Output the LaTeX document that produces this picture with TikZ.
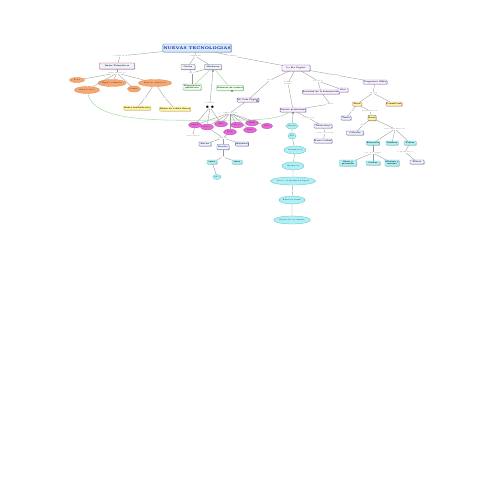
\documentclass[tikz,border=0pt]{standalone}
\usetikzlibrary{shadows,shapes.geometric}
\definecolor{lnk}{HTML}{989898}
\definecolor{orF}{HTML}{F5A872}\definecolor{orD}{HTML}{E8884A}
\definecolor{mgF}{HTML}{E66AD6}\definecolor{mgD}{HTML}{C03CB0}
\definecolor{cyF}{HTML}{B0F0F4}\definecolor{cyD}{HTML}{58C4D0}
\definecolor{ylF}{HTML}{FFF4A0}\definecolor{ylD}{HTML}{D8C850}
\definecolor{gnF}{HTML}{F0FFEE}\definecolor{gnD}{HTML}{50B850}
\definecolor{buF}{HTML}{EEF2FF}\definecolor{buD}{HTML}{4858A8}
\definecolor{puF}{HTML}{FAF2FF}\definecolor{puD}{HTML}{9060B8}
\definecolor{rdF}{HTML}{FFF0F0}\definecolor{rdD}{HTML}{C03030}
\definecolor{tiF}{HTML}{D6EAFF}\definecolor{tiD}{HTML}{3A7FD0}
\definecolor{grn}{HTML}{A8E0A8}
\tikzset{
  lbl/.style={inner sep=0.2pt,font=\fontsize{1.6}{1.9}\selectfont,text=gray!70!black,align=center},
  bx/.style={draw=#1D,fill=#1F,line width=0.45pt,rounded corners=0.6pt,inner sep=0.3pt,
     font=\fontsize{2}{2.3}\selectfont\bfseries,align=center,
     drop shadow={shadow xshift=0.6pt,shadow yshift=-0.6pt,fill=gray!70,opacity=0.8}},
  el/.style={ellipse,draw=#1D,fill=#1F,line width=0.35pt,inner sep=0.2pt,
     font=\fontsize{1.7}{2}\selectfont,align=center},
  ln/.style={draw=lnk,line width=0.35pt},
  gl/.style={draw=grn,line width=0.55pt},
  ico/.style={circle,fill=gray!60!black,inner sep=0pt,minimum size=1.6pt}
}
\begin{document}
\begin{tikzpicture}[x=1pt,y=-1pt]
\useasboundingbox (0,0) rectangle (495,495);
% title
\node[bx=ti,minimum width=66pt,minimum height=8pt,text=blue!40!black,font=\fontsize{3.8}{4}\selectfont\bfseries] (t) at (197,48) {NUEVAS TECNOLOGIAS};
\node[lbl] (l1) at (120,56) {se clasifican en};
\node[lbl] (l2) at (195,56) {comprenden};
\node[lbl] (l3) at (232,56) {permiten};
\node[bx=bu,draw=rdD,minimum width=35pt,minimum height=6pt] (rt) at (117,66) {Redes Telem\'aticas};
\node[bx=bu,draw=gray!80!black,minimum width=14pt,minimum height=5pt] (gr) at (188,67) {Grafos};
\node[bx=bu,draw=gray!80!black,minimum width=17pt,minimum height=5pt] (hw) at (213,67) {Hardware};
\node[bx=pu,draw=puD!70!black,minimum width=28pt,minimum height=6pt] (ed) at (296,68) {La Era Digital};
\node[ico] (hwi) at (213,71) {};
% left
\node[lbl] (l4) at (117,73) {est\'an formadas por};
\node[el=or,minimum width=15pt,minimum height=5pt] (e1) at (77,80) {Nodos};
\node[el=or,minimum width=25pt,minimum height=7pt] (e2) at (87,90) {Canal de datos};
\node[el=or,minimum width=27pt,minimum height=7pt] (e3) at (112,83) {Equipos terminales};
\node[el=or,minimum width=13pt,minimum height=6pt] (e4) at (134,89) {Software};
\node[el=or,minimum width=33pt,minimum height=7pt] (e5) at (155,83) {Redes de ordenadores};
\node[lbl] (l5) at (145,98) {son};
\node[lbl] (l6) at (165,98) {son};
\node[bx=yl,minimum width=27pt,minimum height=4pt,drop shadow={opacity=0}] (y1) at (137,108) {Redes Inal\'ambricas};
\node[bx=yl,minimum width=30pt,minimum height=4pt,drop shadow={opacity=0}] (y2) at (175,109) {Redes de cables f\'isicos};
\draw[ln] (t) -- (l1) -- (rt);
\draw[ln] (t) -- (l2); \draw[ln] (l2) -- (gr); \draw[ln] (l2) -- (hw);
\draw[ln] (t) -- (l3) -- (ed);
\draw[ln] (rt) -- (l4);
\foreach \e in {e1,e2,e3,e4,e5} \draw[ln] (l4) -- (\e);
\draw[ln] (e5) -- (l5) -- (y1);
\draw[ln] (e5) -- (l6) -- (y2);
% middle
\node[lbl] (l7) at (192,73) {tipos};
\node[bx=gn,minimum width=18pt,minimum height=6pt] (g1) at (192,87) {Dispositivos\\perif\'ericos};
\node[bx=gn,minimum width=25pt,minimum height=5pt] (g2) at (230,88) {Software de control};
\node[ico] (g2i) at (232,91) {};
\draw[ln] (gr) -- (l7); \draw[ln] (hw) -- (l7); \draw[ln] (l7) -- (g1);
\draw[gl] (hw) -- (g1); \draw[gl] (hw) -- (g2);
\node[lbl] (l14) at (210,103) {permiten};
\node[lbl,font=\fontsize{3}{3}\selectfont,text=black] (dt) at (210,107) {$\bullet\,\bullet$};
\draw[ln] (hwi) -- (l14);
\node[bx=pu,minimum width=20pt,minimum height=4pt] (my) at (248,100) {Mi Vida Digital};
\node[ico] (myi) at (257,101) {};
\node[lbl] (l15) at (230,113) {clasificados en};
% magenta
\node[el=mg,minimum width=13pt,minimum height=5.5pt] (m1) at (195,125) {Agenda};
\node[el=mg,minimum width=13pt,minimum height=5.5pt] (m2) at (207,127) {Correo};
\node[el=mg,minimum width=13pt,minimum height=5.5pt] (m3) at (221,124) {Chat};
\node[el=mg,minimum width=13pt,minimum height=5.5pt] (m4) at (230,132) {Blogs};
\node[el=mg,minimum width=13pt,minimum height=5.5pt] (m5) at (237,125) {Foros};
\node[el=mg,minimum width=13pt,minimum height=5.5pt] (m6) at (252,123) {Wikis};
\node[el=mg,minimum width=13pt,minimum height=5.5pt] (m7) at (250,130) {Redes};
\node[el=mg,minimum width=11pt,minimum height=5.5pt] (m8) at (267,126) {Webs};
\draw[ln] (my) -- (l15);
\foreach \m in {m1,m2,m3,m4,m5,m6,m7,m8} \draw[ln] (l15) -- (\m);
\draw[ln] (dt) -- (m1); \draw[ln] (dt) -- (m2); \draw[ln] (dt) -- (m3);
\node[lbl] (l16) at (193,135) {sus\\caracter\'isticas};
\node[lbl] (l17) at (223,138) {se pueden};
\node[bx=bu,minimum width=12pt,minimum height=4pt] (b1) at (205,144) {Enviar};
\node[bx=bu,minimum width=12pt,minimum height=5pt] (b2) at (223,147) {Recibir};
\node[bx=bu,minimum width=12pt,minimum height=4pt] (b3) at (242,144) {Adjuntar};
\draw[ln] (m1) -- (l16);
\draw[ln] (m2) -- (l17); \draw[ln] (m4) -- (l17);
\foreach \b in {b1,b2,b3} \draw[ln] (l17) -- (\b);
\node[lbl] (l18) at (223,157) {con};
\node[bx=cy,minimum width=10pt,minimum height=4pt,drop shadow={opacity=0}] (c1) at (212,162) {texto};
\node[bx=cy,minimum width=10pt,minimum height=4pt,drop shadow={opacity=0}] (c2) at (237,162) {fotos};
\node[el=cy,minimum width=8pt,minimum height=5pt] (c3) at (217,177) {v\'ideo};
\draw[ln] (b2) -- (l18); \draw[ln] (l18) -- (c1); \draw[ln] (l18) -- (c2); \draw[ln] (c1) -- (c3);
% era digital branch
\node[lbl] (l8) at (270,80) {afecta};
\node[lbl] (l9) at (288,83) {modifica\\nuestra};
\node[lbl] (l10) at (318,81) {se basa en};
\node[lbl] (l11) at (335,75) {utiliza};
\node[bx=pu,minimum width=24pt,minimum height=4pt] (po) at (375,82) {Programas Office};
\node[bx=pu,minimum width=23pt,minimum height=4pt] (p1) at (321,92) {Sociedad de la Informaci\'on};
\node[bx=pu,minimum width=10pt,minimum height=4pt] (p2) at (343,90) {Ocio};
\node[lbl] (l12) at (330,104) {conlleva};
\node[bx=pu,minimum width=22pt,minimum height=4pt] (ot) at (293,110) {Nuevas profesiones};
\node[ico] (oti) at (293,113) {};
\draw[ln] (ed) -- (l8) -- (my);
\draw[ln] (ed) -- (l9) -- (ot);
\draw[ln] (ed) -- (l10) -- (p1); \draw[ln] (l10) -- (p2);
\draw[ln] (ed) -- (l11) -- (po);
\draw[ln] (p1) -- (l12) -- (ot);
% cyan chain
\node[el=cy,minimum width=10pt,minimum height=6pt] (k1) at (292,126) {Internet};
\node[el=cy,minimum width=8pt,minimum height=6pt] (k2) at (292,136) {Web};
\node[el=cy,minimum width=22pt,minimum height=8pt] (k3) at (295,150) {Comunicaci\'on};
\node[el=cy,minimum width=22pt,minimum height=8pt] (k4) at (293,166) {Informaci\'on};
\node[el=cy,minimum width=37pt,minimum height=8pt] (k5) at (293,181) {Acceso a la informaci\'on digital};
\node[el=cy,minimum width=22pt,minimum height=8pt] (k6) at (292,200) {Educaci\'on virtual};
\node[el=cy,minimum width=32pt,minimum height=8pt] (k7) at (292,220) {Gesti\'on del conocimiento};
\draw[ln] (oti) -- (k1) -- (k2) -- (k3) -- (k4) -- (k5) -- (k6) -- (k7);
\node[lbl] (l19) at (308,118) {se componen};
\node[bx=pu,draw=buD,minimum width=18pt,minimum height=4pt] (q1) at (323,126) {Teletrabajo};
\node[lbl] (l20) at (325,133) {comercio electr\'onico};
\node[bx=pu,draw=buD,minimum width=18pt,minimum height=4pt] (q2) at (323,141) {Banca online};
\draw[ln] (ot) -- (l19) -- (q1); \draw[ln] (q1) -- (l20) -- (q2);
% office branch
\node[lbl] (l13) at (373,93) {como son};
\node[bx=yl,draw=mgD!70,minimum width=9pt,minimum height=4pt] (ow) at (357,104) {Word};
\node[bx=yl,draw=mgD!70,minimum width=13pt,minimum height=4pt] (pp) at (394,104) {PowerPoint};
\draw[ln] (po) -- (l13); \draw[ln] (l13) -- (ow); \draw[ln] (l13) -- (pp);
\node[lbl] (l21) at (352,111) {son};
\node[lbl] (l22) at (370,111) {herramientas de};
\node[bx=bu,minimum width=10pt,minimum height=4pt] (r1) at (346,118) {Texto};
\node[bx=yl,draw=gray!70!black,minimum width=8pt,minimum height=5pt] (r2) at (372,118) {Excel};
\draw[ln] (ow) -- (l21) -- (r1); \draw[ln] (ow) -- (l22) -- (r2);
\node[lbl] (l23) at (363,125) {sirve};
\node[bx=bu,minimum width=17pt,minimum height=4pt] (r3) at (355,133) {C\'alculos};
\node[lbl] (l24) at (395,129) {tiene varias funciones};
\draw[ln] (r2) -- (l23) -- (r3); \draw[ln] (r2) -- (l24);
\node[bx=cy,minimum width=12pt,minimum height=4pt] (s1) at (373,143) {F\'ormulas};
\node[bx=cy,minimum width=12pt,minimum height=4pt] (s2) at (392,143) {Gr\'aficos};
\node[bx=cy,minimum width=12pt,minimum height=4pt] (s3) at (410,143) {Tablas};
\foreach \s in {s1,s2,s3} \draw[ln] (l24) -- (\s);
\node[lbl] (l25) at (373,153) {como por ejemplo};
\node[lbl] (l26) at (405,152) {se pueden hacer};
\node[bx=cy,minimum width=17pt,minimum height=6pt] (u1) at (348,163) {Suma y\\promedio};
\node[bx=cy,minimum width=14pt,minimum height=4pt] (u2) at (373,163) {Contar};
\node[bx=cy,minimum width=13pt,minimum height=6pt] (u3) at (392,163) {M\'aximo y\\m\'inimo};
\node[bx=bu,minimum width=14pt,minimum height=4pt] (u4) at (417,162) {Filtros};
\draw[ln] (s1) -- (l25); \foreach \u in {u1,u2,u3} \draw[ln] (l25) -- (\u);
\draw[ln] (s3) -- (l26) -- (u4);
% green curved cross-link
\draw[gl] (e2) .. controls (95,125) and (170,120) .. (240,120) .. controls (265,120) and (280,118) .. (ot);
\end{tikzpicture}
\end{document}
